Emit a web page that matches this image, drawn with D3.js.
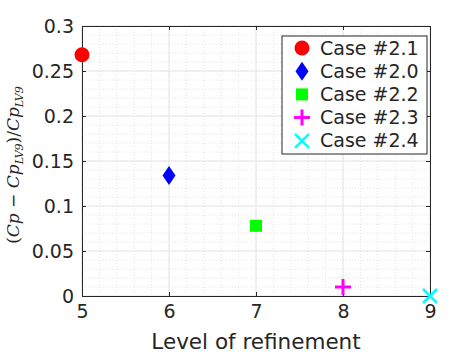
<!DOCTYPE html>
<html><head><meta charset="utf-8">
<script src="https://cdn.jsdelivr.net/npm/d3@7"></script>
<style>body{margin:0;background:#fff}svg{display:block}</style>
</head><body>
<svg id="c" width="474" height="355"></svg>
<script>
const cases = ["Case #2.1","Case #2.0","Case #2.2","Case #2.3","Case #2.4"];
const levels = [5, 6, 7, 8, 9];
const errors = [0.268, 0.134, 0.078, 0.010, 0.0];
const colors = ["#ff0000","#0000ff","#00ff00","#ff00ff","#00ffff"];
const shapes = ["circle","diamond","square","plus","cross"];
const xTicks = [5,6,7,8,9];
const yTicks = [0,0.05,0.1,0.15,0.2,0.25,0.3];

const svg = d3.select("#c");
const L=82, R=430, T=26, B=296;
const x = d3.scaleLinear().domain([5,9]).range([L,R]);
const y = d3.scaleLinear().domain([0,0.3]).range([B,T]);
const font = "DejaVu Sans, sans-serif";

// minor grid
const xMinor = d3.range(5,9.001,0.2);
const yMinor = d3.range(0,0.3001,0.01);
const g = svg.append("g");
g.selectAll(".xm").data(xMinor).join("line")
  .attr("x1",d=>x(d)).attr("x2",d=>x(d)).attr("y1",T).attr("y2",B)
  .attr("stroke","#dcdcdc").attr("stroke-width",0.8).attr("stroke-dasharray","1,2");
g.selectAll(".ym").data(yMinor).join("line")
  .attr("y1",d=>y(d)).attr("y2",d=>y(d)).attr("x1",L).attr("x2",R)
  .attr("stroke","#dcdcdc").attr("stroke-width",0.8).attr("stroke-dasharray","1,2");
// major grid
g.selectAll(".xg").data(xTicks).join("line")
  .attr("x1",d=>x(d)).attr("x2",d=>x(d)).attr("y1",T).attr("y2",B)
  .attr("stroke","#e6e6e6").attr("stroke-width",1);
g.selectAll(".yg").data(yTicks).join("line")
  .attr("y1",d=>y(d)).attr("y2",d=>y(d)).attr("x1",L).attr("x2",R)
  .attr("stroke","#e6e6e6").attr("stroke-width",1);

// axes
const fmt = d=>String(d);
const ax = svg.append("g").attr("transform",`translate(0,${B})`)
  .call(d3.axisBottom(x).tickValues(xTicks).tickFormat(fmt).tickSize(-4).tickPadding(7));
const axT = svg.append("g").attr("transform",`translate(0,${T})`)
  .call(d3.axisTop(x).tickValues(xTicks).tickFormat("").tickSize(-4));
const ay = svg.append("g").attr("transform",`translate(${L},0)`)
  .call(d3.axisLeft(y).tickValues(yTicks).tickFormat(fmt).tickSize(-4).tickPadding(8));
const ayR = svg.append("g").attr("transform",`translate(${R},0)`)
  .call(d3.axisRight(y).tickValues(yTicks).tickFormat("").tickSize(-4));
[ax,axT,ay,ayR].forEach(a=>{
  a.select(".domain").attr("stroke","#262626").attr("stroke-width",1);
  a.selectAll(".tick line").attr("stroke","#262626");
  a.selectAll("text").attr("fill","#262626").attr("font-family",font).attr("font-size",19);
});
ax.selectAll("text").attr("dy","0.8em");
ay.selectAll("text").attr("dy","0.35em");

// markers
function drawMarker(sel, shape, color){
  if(shape==="circle"){
    sel.append("circle").attr("r",7.5).attr("fill",color);
  } else if(shape==="diamond"){
    sel.append("path").attr("d","M0,-9.5L6.5,0L0,9.5L-6.5,0Z").attr("fill",color);
  } else if(shape==="square"){
    sel.append("rect").attr("x",-6).attr("y",-6).attr("width",12).attr("height",12).attr("fill",color);
  } else if(shape==="plus"){
    sel.append("path").attr("d","M-8,0H8M0,-8V8").attr("stroke",color).attr("stroke-width",3).attr("fill","none");
  } else {
    sel.append("path").attr("d","M-7,-7L7,7M-7,7L7,-7").attr("stroke",color).attr("stroke-width",2.5).attr("fill","none");
  }
}
levels.forEach((lv,i)=>{
  const m = svg.append("g").attr("transform",`translate(${x(lv)},${y(errors[i])})`);
  drawMarker(m, shapes[i], colors[i]);
});

// legend
const lg = svg.append("g");
lg.append("rect").attr("x",282).attr("y",36).attr("width",145).attr("height",118)
  .attr("fill","#fff").attr("stroke","#262626").attr("stroke-width",1);
cases.forEach((c,i)=>{
  const yy = 48 + i*23.2;
  const m = lg.append("g").attr("transform",`translate(302,${yy})`);
  drawMarker(m, shapes[i], colors[i]);
  lg.append("text").attr("x",320).attr("y",yy).attr("dy","0.35em")
    .attr("font-family",font).attr("font-size",19).attr("fill","#262626").text(c);
});

// x label
svg.append("text").attr("x",(L+R)/2).attr("y",341).attr("dy","0.35em").attr("text-anchor","middle")
  .attr("font-family",font).attr("font-size",21.5).attr("fill","#262626").text("Level of refinement");

// y label (math)
const yl = svg.append("text").attr("transform","translate(19,165) rotate(-90)")
  .attr("text-anchor","middle").attr("font-family","DejaVu Serif, serif").attr("font-size",17).attr("fill","#262626");
yl.append("tspan").attr("font-style","normal").text("(");
yl.append("tspan").attr("font-style","italic").text("Cp");
yl.append("tspan").attr("font-style","normal").text(" − ");
yl.append("tspan").attr("font-style","italic").text("Cp");
yl.append("tspan").attr("font-style","italic").attr("font-size",11).attr("dy",4).text("LV9");
yl.append("tspan").attr("font-style","normal").attr("dy",-4).text(")/");
yl.append("tspan").attr("font-style","italic").text("Cp");
yl.append("tspan").attr("font-style","italic").attr("font-size",11).attr("dy",4).text("LV9");
</script>
</body></html>
